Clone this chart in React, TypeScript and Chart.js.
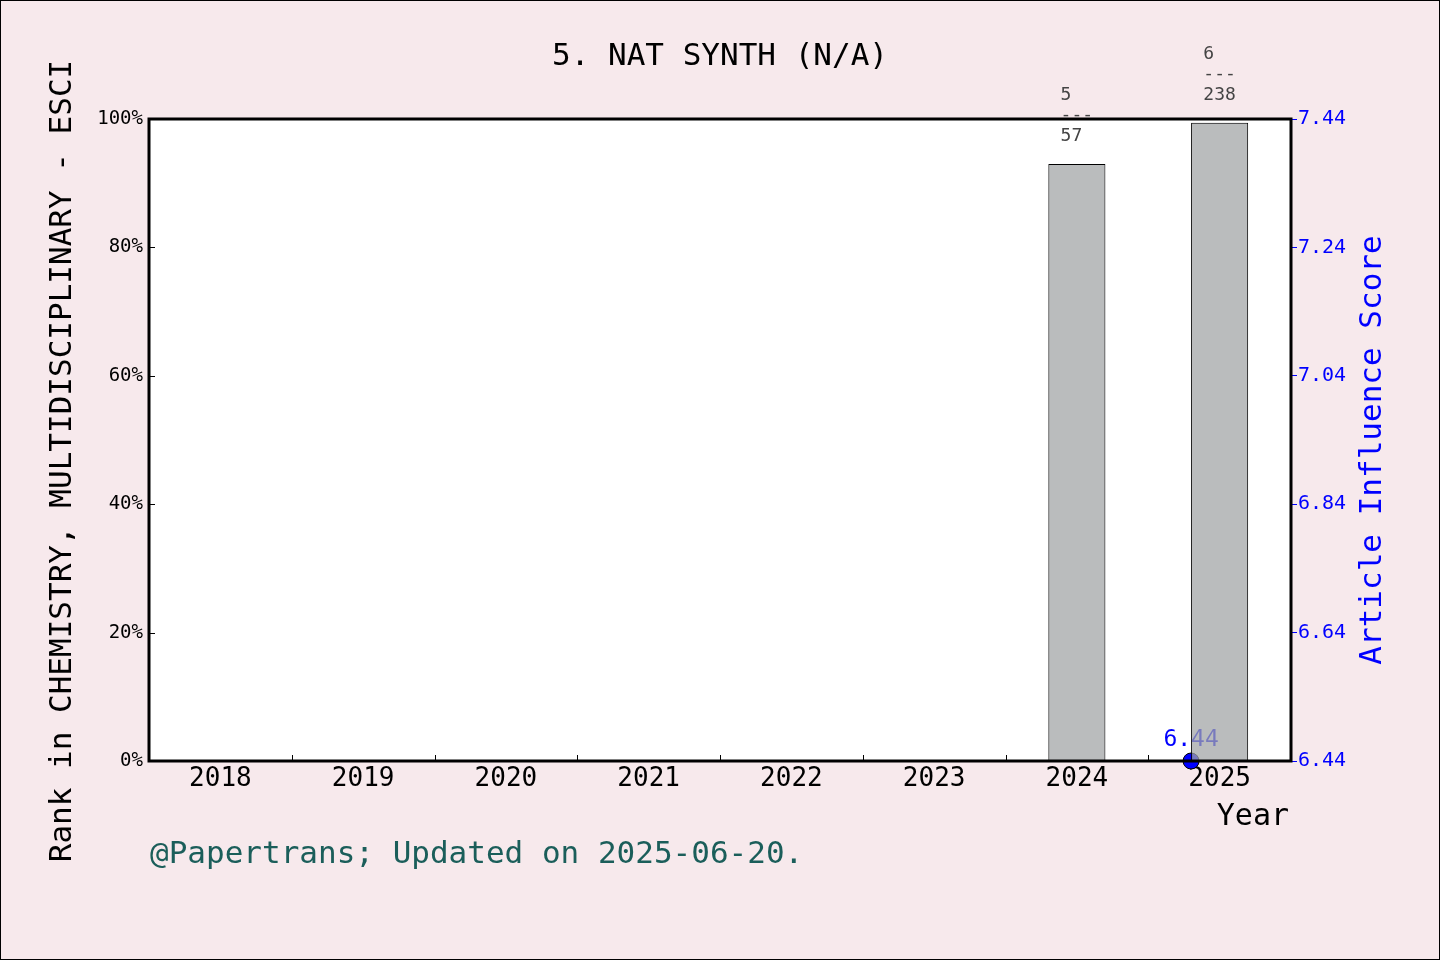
import React, { useEffect, useRef } from "react";
import { Chart, registerables } from "chart.js";

Chart.register(...registerables);

// data
const years = ["2018", "2019", "2020", "2021", "2022", "2023", "2024", "2025"];
const rankPercent = [null, null, null, null, null, null, 93.0, 99.4];
const rankPos = [null, null, null, null, null, null, 5, 6];
const rankTotal = [null, null, null, null, null, null, 57, 238];
const aisYears = ["2025"];
const aisValues = [6.44];
const pctTicks = [0, 20, 40, 60, 80, 100];
const aisTicks = [6.44, 6.64, 6.84, 7.04, 7.24, 7.44];

const MONO = "'DejaVu Sans Mono', monospace";
const PINK = "#f7e9ec";
const POINT_SHIFT = -0.2;

export default function App() {
  const chartRef = useRef<HTMLCanvasElement | null>(null);
  const chartInstanceRef = useRef<Chart | null>(null);

  useEffect(() => {
    if (!chartRef.current) return;
    const ctx = chartRef.current.getContext("2d");
    if (!ctx) return;

    if (chartInstanceRef.current) {
      chartInstanceRef.current.destroy();
    }

    const barData = rankPercent
      .map((v, i) => (v == null ? null : { x: i, y: v }))
      .filter((p) => p !== null);

    const decor = {
      id: "decor",
      beforeDraw(chart: any) {
        const c = chart.ctx;
        const a = chart.chartArea;
        c.save();
        c.fillStyle = PINK;
        c.fillRect(0, 0, chart.width, chart.height);
        c.fillStyle = "#fff";
        c.fillRect(a.left, a.top, a.right - a.left, a.bottom - a.top);
        c.strokeStyle = "#000";
        c.lineWidth = 1;
        c.strokeRect(0.5, 0.5, chart.width - 1, chart.height - 1);
        c.restore();
      },
      afterDatasetDraw(chart: any, args: any) {
        // value label of the score point, drawn before the bars cover it
        if (args.index !== 1) return;
        const c = chart.ctx;
        const meta = chart.getDatasetMeta(1);
        c.save();
        c.font = `23px ${MONO}`;
        c.fillStyle = "#0000ff";
        c.textAlign = "center";
        c.textBaseline = "alphabetic";
        meta.data.forEach((pt: any, i: number) => {
          c.fillText(aisValues[i].toFixed(2), pt.x, pt.y - 15);
        });
        c.restore();
      },
      afterDatasetsDraw(chart: any) {
        const c = chart.ctx;
        const a = chart.chartArea;
        const x = chart.scales.x;
        const y = chart.scales.y;

        // rank labels above bars
        const meta = chart.getDatasetMeta(0);
        c.save();
        c.font = `18px ${MONO}`;
        c.fillStyle = "#444";
        c.textAlign = "left";
        c.textBaseline = "alphabetic";
        meta.data.forEach((bar: any, k: number) => {
          const i = barData[k]!.x;
          const lines = [String(rankPos[i]), "---", String(rankTotal[i])];
          const w = Math.max(...lines.map((l) => c.measureText(l).width));
          const left = bar.x - w / 2;
          const base = bar.y - 23;
          lines.forEach((l, n) => {
            c.fillText(l, left, base - (lines.length - 1 - n) * 20.5);
          });
        });
        c.restore();

        // inward ticks
        c.save();
        c.strokeStyle = "#000";
        c.lineWidth = 1;
        c.beginPath();
        pctTicks.forEach((v) => {
          const py = Math.round(y.getPixelForValue(v)) + 0.5;
          c.moveTo(a.left, py);
          c.lineTo(a.left + 6, py);
        });
        for (let i = 1; i < years.length; i++) {
          const px = Math.round(x.getPixelForValue(i - 0.5)) + 0.5;
          c.moveTo(px, a.bottom);
          c.lineTo(px, a.bottom - 6);
        }
        c.stroke();

        // frame
        c.lineWidth = 3;
        c.strokeRect(a.left, a.top, a.right - a.left, a.bottom - a.top);
        c.restore();
      },
      afterDraw(chart: any) {
        const c = chart.ctx;
        c.save();
        c.textBaseline = "middle";

        c.font = `31px ${MONO}`;
        c.fillStyle = "#000";
        c.textAlign = "center";
        c.fillText("5. NAT SYNTH (N/A)", 720, 57);

        c.save();
        c.translate(63, 461);
        c.rotate(-Math.PI / 2);
        c.fillText("Rank in CHEMISTRY, MULTIDISCIPLINARY - ESCI", 0, 0);
        c.restore();

        c.save();
        c.translate(1373, 450);
        c.rotate(-Math.PI / 2);
        c.fillStyle = "#0000ff";
        c.fillText("Article Influence Score", 0, 0);
        c.restore();

        c.font = `30px ${MONO}`;
        c.textAlign = "right";
        c.fillText("Year", 1289, 817);

        c.font = `31px ${MONO}`;
        c.textAlign = "left";
        c.fillStyle = "#1b5e5a";
        c.fillText("@Papertrans; Updated on 2025-06-20.", 150, 855);
        c.restore();
      },
    };

    chartInstanceRef.current = new Chart(ctx, {
      type: "bar",
      data: {
        datasets: [
          {
            type: "bar",
            label: "Rank",
            data: barData,
            xAxisID: "x",
            yAxisID: "y",
            backgroundColor: "rgba(162, 164, 166, 0.74)",
            borderColor: "#000",
            borderWidth: 1,
            barPercentage: 0.4,
            categoryPercentage: 1,
            grouped: false,
            order: 0,
          },
          {
            type: "scatter",
            label: "AIS",
            data: aisYears.map((yr, i) => ({
              x: years.indexOf(yr) + POINT_SHIFT,
              y: aisValues[i],
            })),
            xAxisID: "x",
            yAxisID: "y2",
            pointRadius: 8,
            backgroundColor: "#0000ff",
            borderColor: "#000",
            borderWidth: 1,
            clip: false,
            order: 1,
          },
        ] as any,
      },
      options: {
        responsive: false,
        animation: false,
        layout: { padding: { top: 119, left: 0, right: 0, bottom: 0 } },
        plugins: {
          legend: { display: false },
          tooltip: { enabled: false },
        },
        scales: {
          x: {
            type: "linear",
            position: "bottom",
            min: -0.5,
            max: years.length - 0.5,
            offset: false,
            grid: { display: false, drawTicks: false },
            border: { display: false },
            afterBuildTicks: (s: any) => {
              s.ticks = years.map((_, i) => ({ value: i }));
            },
            ticks: {
              color: "#000",
              font: { family: MONO, size: 26 },
              padding: 3,
              maxRotation: 0,
              autoSkip: false,
              callback: (v: any) => years[Math.round(Number(v))] ?? "",
            },
            afterFit: (s: any) => {
              s.height = 199;
            },
          },
          y: {
            type: "linear",
            position: "left",
            min: 0,
            max: 100,
            grid: { display: false, drawTicks: false, tickLength: 0 },
            border: { display: false },
            afterBuildTicks: (s: any) => {
              s.ticks = pctTicks.map((v) => ({ value: v }));
            },
            ticks: {
              color: "#000",
              font: { family: MONO, size: 19 },
              padding: 6,
              callback: (v: any) => `${v}%`,
            },
            afterFit: (s: any) => {
              s.width = 149;
            },
          },
          y2: {
            type: "linear",
            position: "right",
            min: aisTicks[0],
            max: aisTicks[aisTicks.length - 1],
            grid: {
              display: true,
              drawOnChartArea: false,
              drawTicks: true,
              tickLength: 6,
              color: "#0000ff",
            },
            border: { display: false },
            afterBuildTicks: (s: any) => {
              s.ticks = aisTicks.map((v) => ({ value: v }));
            },
            ticks: {
              color: "#0000ff",
              font: { family: MONO, size: 20 },
              padding: 1,
              callback: (v: any) => Number(v).toFixed(2),
            },
            afterFit: (s: any) => {
              s.width = 149;
            },
          },
        } as any,
      },
      plugins: [decor],
    });

    return () => {
      if (chartInstanceRef.current) {
        chartInstanceRef.current.destroy();
        chartInstanceRef.current = null;
      }
    };
  }, []);

  return (
    <div style={{ position: "absolute", left: 0, top: 0, width: 1440, height: 960 }}>
      <canvas ref={chartRef} width={1440} height={960} style={{ width: 1440, height: 960 }} />
    </div>
  );
}
